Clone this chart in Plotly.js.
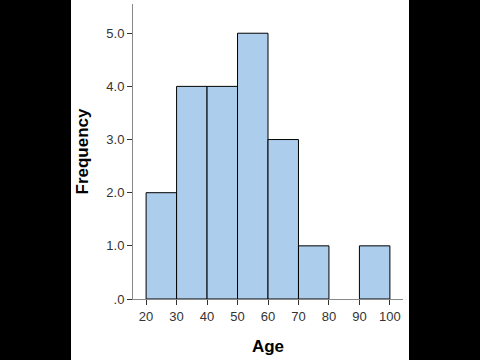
<!DOCTYPE html>
<html>
<head>
<meta charset="utf-8">
<script src="https://cdn.plot.ly/plotly-3.0.1.min.js"></script>
<style>html,body{margin:0;padding:0;background:#fff;}#chart{width:480px;height:360px;}</style>
</head>
<body>
<div id="chart"></div>
<script>
var binStarts = [20, 30, 40, 50, 60, 70, 80, 90];
var frequency = [2, 4, 4, 5, 3, 1, 0, 1];
var binWidth = 10;
var xTickVals = [20, 30, 40, 50, 60, 70, 80, 90, 100];
var yTickVals = [0, 1, 2, 3, 4, 5];
var yTickText = ['.0', '1.0', '2.0', '3.0', '4.0', '5.0'];

var trace = {
  type: 'bar',
  x: binStarts,
  y: frequency,
  width: binStarts.map(function(){return binWidth;}),
  offset: 0,
  marker: {
    color: '#adcdec',
    line: {color: '#000000', width: frequency.map(function(v){return v > 0 ? 1 : 0;})}
  },
  hoverinfo: 'x+y'
};

var layout = {
  width: 480, height: 360,
  margin: {l: 133, r: 77, t: 4, b: 61},
  paper_bgcolor: '#ffffff',
  plot_bgcolor: '#ffffff',
  showlegend: false,
  font: {family: 'Liberation Sans, Arial, sans-serif', size: 13, color: '#333333'},
  bargap: 0,
  xaxis: {
    range: [15.7, 104.3],
    tickmode: 'array', tickvals: xTickVals,
    ticks: 'outside', ticklen: 5, tickcolor: '#333333', tickwidth: 1,
    showline: true, linecolor: '#888888', linewidth: 1,
    showgrid: false, zeroline: false,
    tickfont: {size: 13, color: '#333333'},
    title: {text: '<b>Age</b>', font: {size: 17, color: '#000000'}, standoff: 17},
    automargin: false
  },
  yaxis: {
    range: [0, 5.55],
    tickmode: 'array', tickvals: yTickVals, ticktext: yTickText,
    ticks: 'outside', ticklen: 5, tickcolor: '#333333', tickwidth: 1,
    showline: true, linecolor: '#888888', linewidth: 1,
    showgrid: false, zeroline: false,
    tickfont: {size: 13, color: '#333333'},
    title: {text: '<b>Frequency</b>', font: {size: 17, color: '#000000'}, standoff: 13},
    automargin: false
  },
  shapes: [
    {type: 'rect', xref: 'paper', yref: 'paper', x0: -1, x1: -0.2296, y0: -1, y1: 2, fillcolor: '#000000', line: {width: 0}, layer: 'above'},
    {type: 'rect', xref: 'paper', yref: 'paper', x0: 1.0222, x1: 2, y0: -1, y1: 2, fillcolor: '#000000', line: {width: 0}, layer: 'above'}
  ]
};

Plotly.newPlot('chart', [trace], layout, {displayModeBar: false, staticPlot: true});
</script>
</body>
</html>
